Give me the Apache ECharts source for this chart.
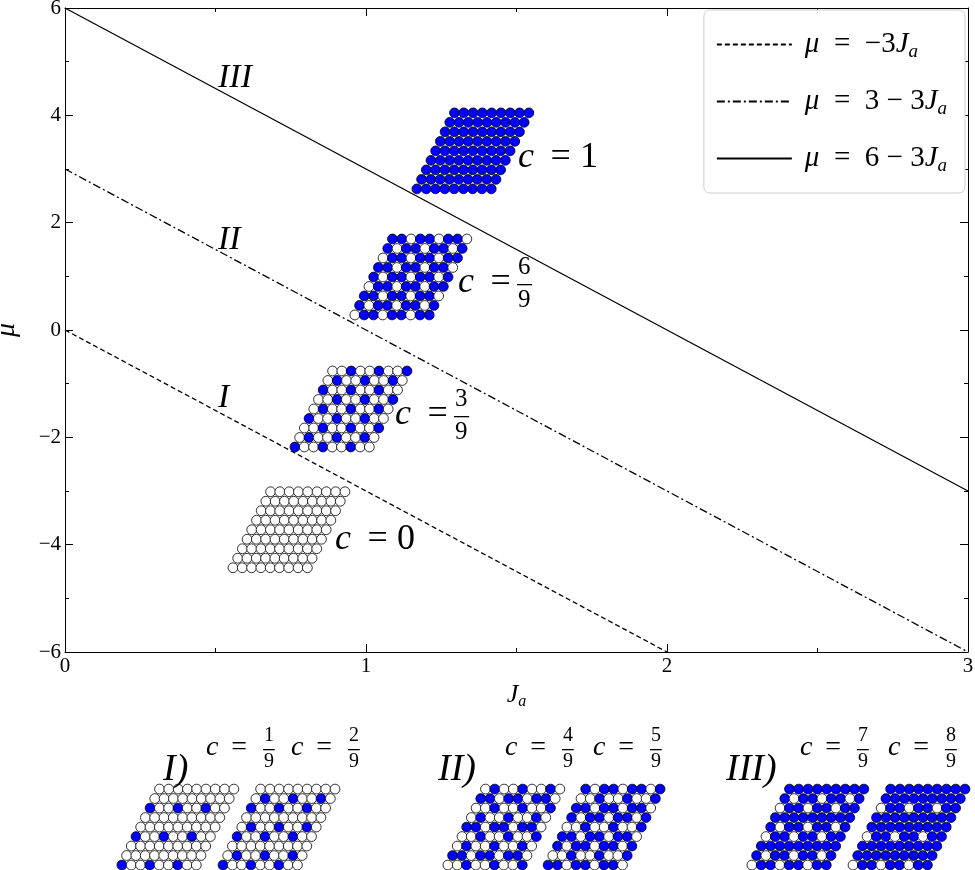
<!DOCTYPE html>
<html>
<head>
<meta charset="utf-8">
<script src="https://cdn.jsdelivr.net/npm/echarts@6/dist/echarts.min.js"></script>
<style>html,body{margin:0;padding:0;background:#fff}#chart{width:975px;height:870px}</style>
</head>
<body>
<div id="chart"></div>
<script>
// phase boundary lines, endpoints [Ja, mu]
const lineI = [[0, 0], [2, -6]]
const lineII = [[0, 3], [3, -6]]
const lineIII = [[0, 6], [3, -3]]

// 9x9 lattice patterns, top row first, 1 = occupied (blue)
const pat0 = ["000000000","000000000","000000000","000000000","000000000","000000000","000000000","000000000","000000000"]
const pat1 = ["000000000","000000000","100100100","000000000","000000000","100100100","000000000","000000000","100100100"]
const pat2 = ["000000000","010010010","100100100","000000000","010010010","100100100","000000000","010010010","100100100"]
const pat3 = ["001001001","010010010","100100100","001001001","010010010","100100100","001001001","010010010","100100100"]
const pat4 = ["010010010","110110110","001001001","010010010","110110110","001001001","010010010","110110110","001001001"]
const pat5 = ["101101101","001001001","110110110","101101101","001001001","110110110","101101101","001001001","110110110"]
const pat6 = ["110110110","101101101","011011011","110110110","101101101","011011011","110110110","101101101","011011011"]
const pat7 = ["111111111","101101101","011011011","111111111","101101101","011011011","111111111","101101101","011011011"]
const pat8 = ["111111111","111111111","011011011","111111111","111111111","011011011","111111111","111111111","011011011"]
const pat9 = ["111111111","111111111","111111111","111111111","111111111","111111111","111111111","111111111","111111111"]
const patterns = [pat0, pat1, pat2, pat3, pat4, pat5, pat6, pat7, pat8, pat9]

// lattice anchors (bottom-left site) in [Ja, mu], pattern index
const latX = [0.558, 0.764, 0.963, 1.169, 0.189, 0.525, 1.272, 1.605, 2.282, 2.618]
const latY = [-4.43, -2.18, 0.28, 2.63, -9.97, -9.97, -9.97, -9.97, -9.97, -9.97]
const latP = [0, 3, 6, 9, 1, 2, 4, 5, 7, 8]

const serif = "'Liberation Serif','DejaVu Serif',serif"
const chart = echarts.init(document.getElementById('chart'))

const DX = 9.3, DY = 9.5, SH = 4.7, R = 4.9
function renderLattice(params, api){
  const p = api.coord([api.value(0), api.value(1)])
  const pat = patterns[api.value(2)]
  const kids = []
  for (let r = 0; r < 9; r++) {
    const k = 8 - r
    for (let j = 0; j < 9; j++) {
      kids.push({
        type: 'circle',
        shape: { cx: p[0] + k * SH + j * DX, cy: p[1] - k * DY, r: R },
        style: { fill: pat[r][j] === '1' ? '#0000ff' : '#ffffff', stroke: '#000', lineWidth: 0.8 }
      })
    }
  }
  return { type: 'group', children: kids }
}

function txt(x, y, s, size, italic){
  return { type: 'text', x: x, y: y, z: 100,
    style: { text: s, fontSize: Math.round(size), fontFamily: serif, fontStyle: italic ? 'italic' : 'normal', fill: '#000', verticalAlign: 'middle' } }
}
// "c = num/den" label; (x, y) = left / vertical middle of "c"
function cLabel(x, y, size, off, num, den){
  const out = [txt(x, y, 'c', size, true), txt(x + size * 0.9, y, '=', size, false)]
  if (den === undefined) {
    out.push(txt(x + off, y, num, size, false))
  } else {
    const fs = size * 0.7
    out.push(txt(x + off, y - fs * 0.62, num, fs, false))
    out.push(txt(x + off, y + fs * 0.68, den, fs, false))
    out.push({ type: 'rect', x: x + off - 1, y: y + 1, shape: { width: fs * 0.6, height: 1.3 }, style: { fill: '#000' }, z: 100 })
  }
  return out
}

const axisCommon = {
  min: 0, max: 3, interval: 1,
  axisLine: { onZero: false, lineStyle: { color: '#000', width: 1 } },
  axisTick: { inside: true, length: 8, lineStyle: { color: '#000' } },
  minorTick: { show: true, splitNumber: 2, length: 4, lineStyle: { color: '#000' } },
  splitLine: { show: false }
}
const lineSeries = (name, data, type) => ({
  name: name, type: 'line', data: data, symbol: 'none', xAxisIndex: 0, yAxisIndex: 0,
  lineStyle: { color: '#000', width: 1.3, type: type }, itemStyle: { color: '#000' }, z: 3
})

chart.setOption({
  animation: false,
  grid: { left: 65, right: 7, top: 8, bottom: 218, outerBoundsMode: 'none', containLabel: false },
  xAxis: [
    Object.assign({}, axisCommon, { type: 'value', position: 'bottom',
      axisLabel: { color: '#000', fontSize: 21, fontFamily: serif, margin: 4 },
      name: '{i|J}{s|a}', nameLocation: 'middle', nameGap: 28,
      nameTextStyle: { rich: { i: { fontFamily: serif, fontStyle: 'italic', fontSize: 26, color: '#000' }, s: { fontFamily: serif, fontStyle: 'italic', fontSize: 16, color: '#000', padding: [14, 0, 0, 0] } } } }),
    Object.assign({}, axisCommon, { type: 'value', position: 'top', axisLabel: { show: false } })
  ],
  yAxis: [
    Object.assign({}, axisCommon, { type: 'value', position: 'left', min: -6, max: 6, interval: 2,
      axisLabel: { color: '#000', fontSize: 21, fontFamily: serif, margin: 4, formatter: v => String(v).replace('-', '\u2212') },
      name: 'μ', nameLocation: 'middle', nameGap: 44, nameRotate: 90,
      nameTextStyle: { fontFamily: serif, fontStyle: 'italic', fontSize: 28, color: '#000' } }),
    Object.assign({}, axisCommon, { type: 'value', position: 'right', min: -6, max: 6, interval: 2, axisLabel: { show: false } })
  ],
  legend: {
    right: 10, top: 10, orient: 'vertical', itemWidth: 75, itemHeight: 14, itemGap: 26,
    padding: [20, 18, 18, 12], borderColor: '#ccc', borderWidth: 1, borderRadius: 6,
    backgroundColor: '#fff', itemStyle: { opacity: 0 },
    textStyle: { fontSize: 29, fontFamily: serif, color: '#000', padding: [0, 0, 0, 8],
      rich: { i: { fontFamily: serif, fontStyle: 'italic', fontSize: 29 }, s: { fontFamily: serif, fontStyle: 'italic', fontSize: 19, padding: [14, 0, 0, 0] }, n: { fontFamily: serif, fontSize: 29 } } },
    formatter: n => ({ a: '{i|μ}{n|  =  −3}{i|J}{s|a}', b: '{i|μ}{n|  =  3 − 3}{i|J}{s|a}', c: '{i|μ}{n|  =  6 − 3}{i|J}{s|a}' })[n],
    data: ['a', 'b', 'c']
  },
  series: [
    lineSeries('a', lineI, [5, 3]),
    lineSeries('b', lineII, [8, 3, 2, 3]),
    lineSeries('c', lineIII, 'solid'),
    {
      type: 'custom', renderItem: renderLattice, clip: false, silent: true, z: 5,
      data: latX.map((x, i) => [x, latY[i], latP[i]])
    }
  ],
  graphic: [].concat(
    [txt(218, 78, 'III', 34, true), txt(218, 240, 'II', 34, true), txt(218, 398, 'I', 34, true)],
    cLabel(518, 158, 36, 62, '1'),
    cLabel(458, 283, 36, 60, '6', '9'),
    cLabel(395, 415, 36, 60, '3', '9'),
    cLabel(335, 540, 36, 62, '0'),
    [txt(163, 770, 'I)', 38, true), txt(438, 770, 'II)', 38, true), txt(726, 770, 'III)', 38, true)],
    cLabel(206, 748, 28, 58, '1', '9'),
    cLabel(291, 748, 28, 58, '2', '9'),
    cLabel(505, 748, 28, 58, '4', '9'),
    cLabel(593, 748, 28, 58, '5', '9'),
    cLabel(800, 748, 28, 58, '7', '9'),
    cLabel(888, 748, 28, 58, '8', '9')
  )
})
</script>
</body>
</html>
